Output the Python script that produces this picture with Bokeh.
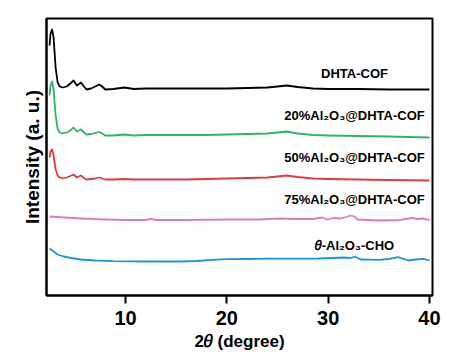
from bokeh.plotting import figure
from bokeh.models import Range1d, FixedTicker
from bokeh.embed import file_html
from bokeh.resources import INLINE
from bokeh.core.properties import value

# ---- data (2theta in degrees, intensity in arbitrary offset units) ----
x_dhta = [2.5, 2.6, 2.75, 2.9, 3.1, 3.3, 3.5, 3.8, 4.2, 4.55, 4.87, 5.2, 5.6, 5.9, 6.15, 6.6, 7.0, 7.4, 7.7, 8.0,
          8.8, 9.9, 10.8, 12, 14, 16, 18, 20, 22, 24, 25, 25.9, 27, 28.5, 30, 33, 36, 40]
y_dhta = [250, 262, 266, 258, 228, 213, 209, 208, 209, 212, 215, 210, 213, 209, 206, 207, 209, 211, 209, 206,
          206.5, 208, 206.5, 207, 207, 207, 207, 207, 207.5, 208, 209, 210, 208.5, 207, 206.5, 206.5, 206, 206]

x_20 = [2.5, 2.6, 2.75, 2.9, 3.1, 3.3, 3.5, 3.8, 4.2, 4.55, 4.87, 5.2, 5.6, 5.9, 6.15, 6.6, 7.0, 7.4, 7.7, 8.0,
        8.8, 9.9, 10.8, 12, 14, 16, 18, 20, 22, 24, 25, 25.9, 27, 28.5, 30, 33, 36, 40]
y_20 = [200, 210, 214, 206, 180, 167, 163, 162, 163, 165, 168, 164, 166, 163, 161, 161.5, 162.5, 163.5, 162, 160,
        160, 161, 160, 160.5, 160.5, 160.5, 160.5, 161, 161.5, 162, 163, 164, 162, 160.5, 160, 159.5, 159, 158]

x_50 = [2.5, 2.6, 2.75, 2.9, 3.1, 3.3, 3.5, 3.8, 4.2, 4.55, 4.87, 5.2, 5.6, 5.9, 6.15, 6.6, 7.0, 7.4, 7.7, 8.0,
        8.8, 9.9, 10.8, 12, 14, 16, 18, 20, 22, 24, 25, 25.9, 27, 28.5, 30, 33, 36, 40]
y_50 = [138, 144, 146, 140, 126, 120, 118, 117, 118, 119.5, 121, 118, 120, 117.5, 116, 116.5, 117, 118, 117, 116,
        116, 116.5, 116, 116, 116, 116, 116.5, 117, 117.5, 118, 119, 120, 118.5, 117, 116.5, 116, 115.5, 115]

x_75 = [2.5, 4.0, 5.6, 8.0, 10, 12, 12.5, 13, 16, 20, 23, 25.3, 26.5, 28.5, 29.4, 29.9, 30.5, 31.2, 31.8, 32.2,
        32.6, 32.9, 34, 35.2, 37, 38.3, 38.8, 39.3, 40]
y_75 = [79, 78, 77, 76, 75.5, 75.5, 76.5, 75.5, 75.5, 76, 76, 77, 76.5, 76.5, 78, 76, 77.5, 77, 78.5, 80,
        79, 76, 75.5, 75, 75.5, 77.5, 76.5, 77, 75.5]

x_al = [2.5, 2.9, 3.3, 3.9, 4.6, 5.6, 7.0, 8.8, 12, 15.4, 17, 19, 20, 22, 24, 27, 29, 30.5, 31.5, 32.2, 32.7,
        33.2, 34, 35, 36, 36.9, 37.9, 38.6, 39.4, 40]
y_al = [47, 44, 41, 39, 37.5, 36, 35, 34.3, 34, 34, 34.5, 35.8, 36.3, 36.5, 36.8, 36.8, 37, 37.5, 38, 37.5, 38.8,
        36, 35.8, 35.7, 36.5, 38.3, 35, 36, 36.7, 35]

labels = ["DHTA-COF", "20%Al₂O₃@DHTA-COF", "50%Al₂O₃@DHTA-COF", "75%Al₂O₃@DHTA-COF", "𝜃-Al₂O₃-CHO"]
label_x = [32.6, 32.6, 32.6, 32.6, 32.6]
label_y = [222, 180, 138, 96, 50]

colors = ["#000000", "#2db36a", "#e23b3b", "#e07ac0", "#1a96dc"]
xticks = [10, 20, 30, 40]

p = figure(width=474, height=354, output_backend="svg", toolbar_location=None,
           x_range=Range1d(2.2, 40.3), y_range=Range1d(0, 277),
           min_border_left=46, min_border_right=42, min_border_top=18, min_border_bottom=59)
p.background_fill_color = "white"
p.border_fill_color = "white"
p.grid.visible = False
p.outline_line_color = "black"
p.outline_line_width = 2

series = [(x_dhta, y_dhta), (x_20, y_20), (x_50, y_50), (x_75, y_75), (x_al, y_al)]
for (xs, ys), c in zip(series, colors):
    p.line(xs, ys, line_color=c, line_width=1.8, line_join="round")

p.text(x=label_x, y=label_y, text=labels, text_font=value("Liberation Sans"), text_font_style="bold",
       text_font_size="13px", text_align="center", text_baseline="middle", text_color="black")

xa = p.xaxis[0]
xa.ticker = FixedTicker(ticks=xticks)
xa.axis_line_width = 2
xa.major_tick_line_width = 2
xa.major_tick_out = 8
xa.major_tick_in = 0
xa.minor_tick_line_color = None
xa.major_label_text_font = "Liberation Sans"
xa.major_label_text_font_style = "bold"
xa.major_label_text_font_size = "20px"
xa.major_label_text_color = "black"
xa.major_label_standoff = 7
xa.axis_label = "2𝜃 (degree)"
xa.axis_label_text_font = "Liberation Sans"
xa.axis_label_text_font_style = "bold"
xa.axis_label_text_font_size = "17px"
xa.axis_label_text_color = "black"
xa.axis_label_standoff = 4

ya = p.yaxis[0]
ya.ticker = FixedTicker(ticks=[])
ya.axis_line_width = 2
ya.major_tick_out = 0
ya.major_tick_in = 0
ya.minor_tick_line_color = None
ya.major_label_text_font_size = "0px"
ya.axis_label = "Intensity (a. u.)"
ya.axis_label_text_font = "Liberation Sans"
ya.axis_label_text_font_style = "bold"
ya.axis_label_text_font_size = "19px"
ya.axis_label_text_color = "black"
ya.axis_label_standoff = 4

open("out.html", "w").write(file_html(p, INLINE))
